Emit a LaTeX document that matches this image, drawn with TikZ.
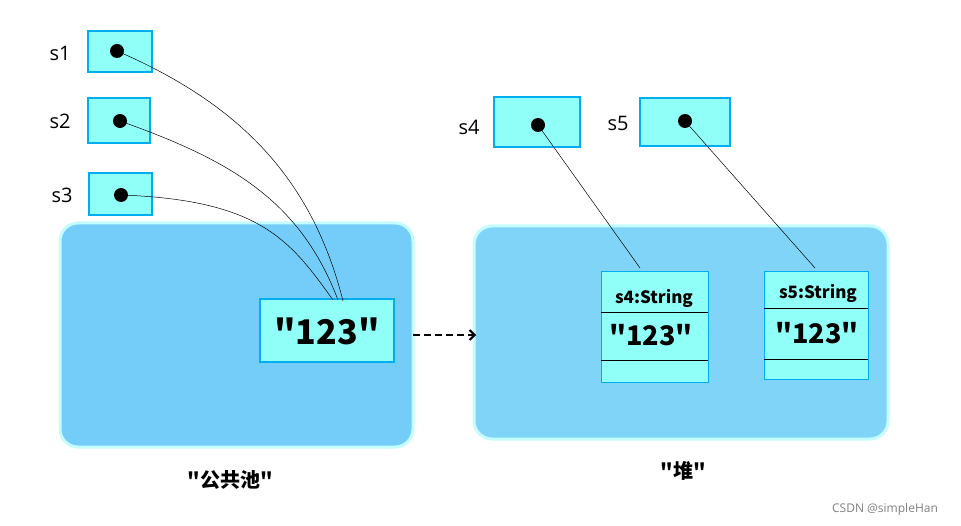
\documentclass[tikz,border=0pt]{standalone}
\usepackage{fontspec}
\setmainfont{Open Sans}
\newfontfamily\cjk{Noto Sans CJK SC}
\usetikzlibrary{arrows.meta}
\definecolor{boxfill}{HTML}{90FFF8}
\definecolor{boxline}{HTML}{00AEEF}
\definecolor{poolA}{HTML}{73CDF8}
\definecolor{poolB}{HTML}{80D4F8}
\definecolor{poolrim}{HTML}{C4FCFF}
\tikzset{
  varbox/.style={draw=boxline,line width=1.2pt,fill=boxfill},
  pool/.style={draw=poolrim,line width=3pt,rounded corners=18pt},
  dotc/.style={circle,fill=black,inner sep=0pt,minimum size=14pt},
  lbl/.style={font=\fontsize{20}{20}\selectfont},
  ref/.style={black,line width=0.5pt},
}
\begin{document}
\begin{tikzpicture}[x=1pt,y=-1pt]
\useasboundingbox (0,0) rectangle (961,526);
% pools
\draw[pool,fill=poolA] (60,223) rectangle (413,447);
\draw[pool,fill=poolB] (474,226) rectangle (888,439);
% s1-s3
\draw[varbox] (88,31) rectangle (152,72);
\draw[varbox] (88,98) rectangle (150,143);
\draw[varbox] (89,173) rectangle (152,215);
\node[dotc] (d1) at (117,51) {};
\node[dotc] (d2) at (120,121) {};
\node[dotc] (d3) at (121,195) {};
\node[lbl] (l1) at (60,53) {s1};
\node[lbl] (l2) at (60,121) {s2};
\node[lbl] (l3) at (62,195) {s3};
% 123 box
\draw[varbox] (260,299) rectangle (394,362);
\node[font=\cjk\bfseries\fontsize{34}{34}\selectfont] (p) at (327,331) {"123"};
\coordinate (e1) at (343,301);
\coordinate (e2) at (338,300);
\coordinate (e3) at (333,300);
\draw[ref] (d1.center) .. controls (230,100) and (310,170) .. (e1);
\draw[ref] (d2.center) .. controls (230,160) and (300,200) .. (e2);
\draw[ref] (d3.center) .. controls (260,200) and (290,240) .. (e3);
% arrow
\coordinate (ah) at (476,335);
\draw[line width=2pt,dash pattern=on 7pt off 4pt,-{Straight Barb[length=5pt,width=10pt]}] (413,335) -- (ah);
% s4 s5
\draw[varbox] (494,97) rectangle (580,147);
\draw[varbox] (640,98) rectangle (730,146);
\node[dotc] (d4) at (538,125) {};
\node[dotc] (d5) at (685,121) {};
\node[lbl] (l4) at (469,127) {s4};
\node[lbl] (l5) at (618,123) {s5};
% objects
\draw[varbox,line width=0.9pt] (601,271) rectangle (708,382);
\draw (601,312) -- (708,312) (601,360) -- (708,360);
\node[font=\cjk\bfseries\fontsize{17}{17}\selectfont] (o4) at (654,298) {s4:String};
\node[font=\cjk\bfseries\fontsize{27}{27}\selectfont] (v4) at (651,335) {"123"};
\draw[varbox,line width=0.9pt] (764,271) rectangle (868,379);
\draw (764,308) -- (868,308) (764,359) -- (868,359);
\node[font=\cjk\bfseries\fontsize{17}{17}\selectfont] (o5) at (818,293) {s5:String};
\node[font=\cjk\bfseries\fontsize{27}{27}\selectfont] (v5) at (817,333) {"123"};
\coordinate (t4) at (640,268);
\coordinate (t5) at (815,268);
\draw[ref] (d4.center) -- (t4);
\draw[ref] (d5.center) -- (t5);
% captions
\node[font=\cjk\bfseries\fontsize{20}{20}\selectfont] (c1) at (230,480) {"公共池"};
\node[font=\cjk\bfseries\fontsize{20}{20}\selectfont] (c2) at (683,471) {"堆"};
\node[font=\fontsize{12}{12}\selectfont,text=gray] (w) at (885,509) {CSDN @simpleHan};
\end{tikzpicture}
\end{document}
